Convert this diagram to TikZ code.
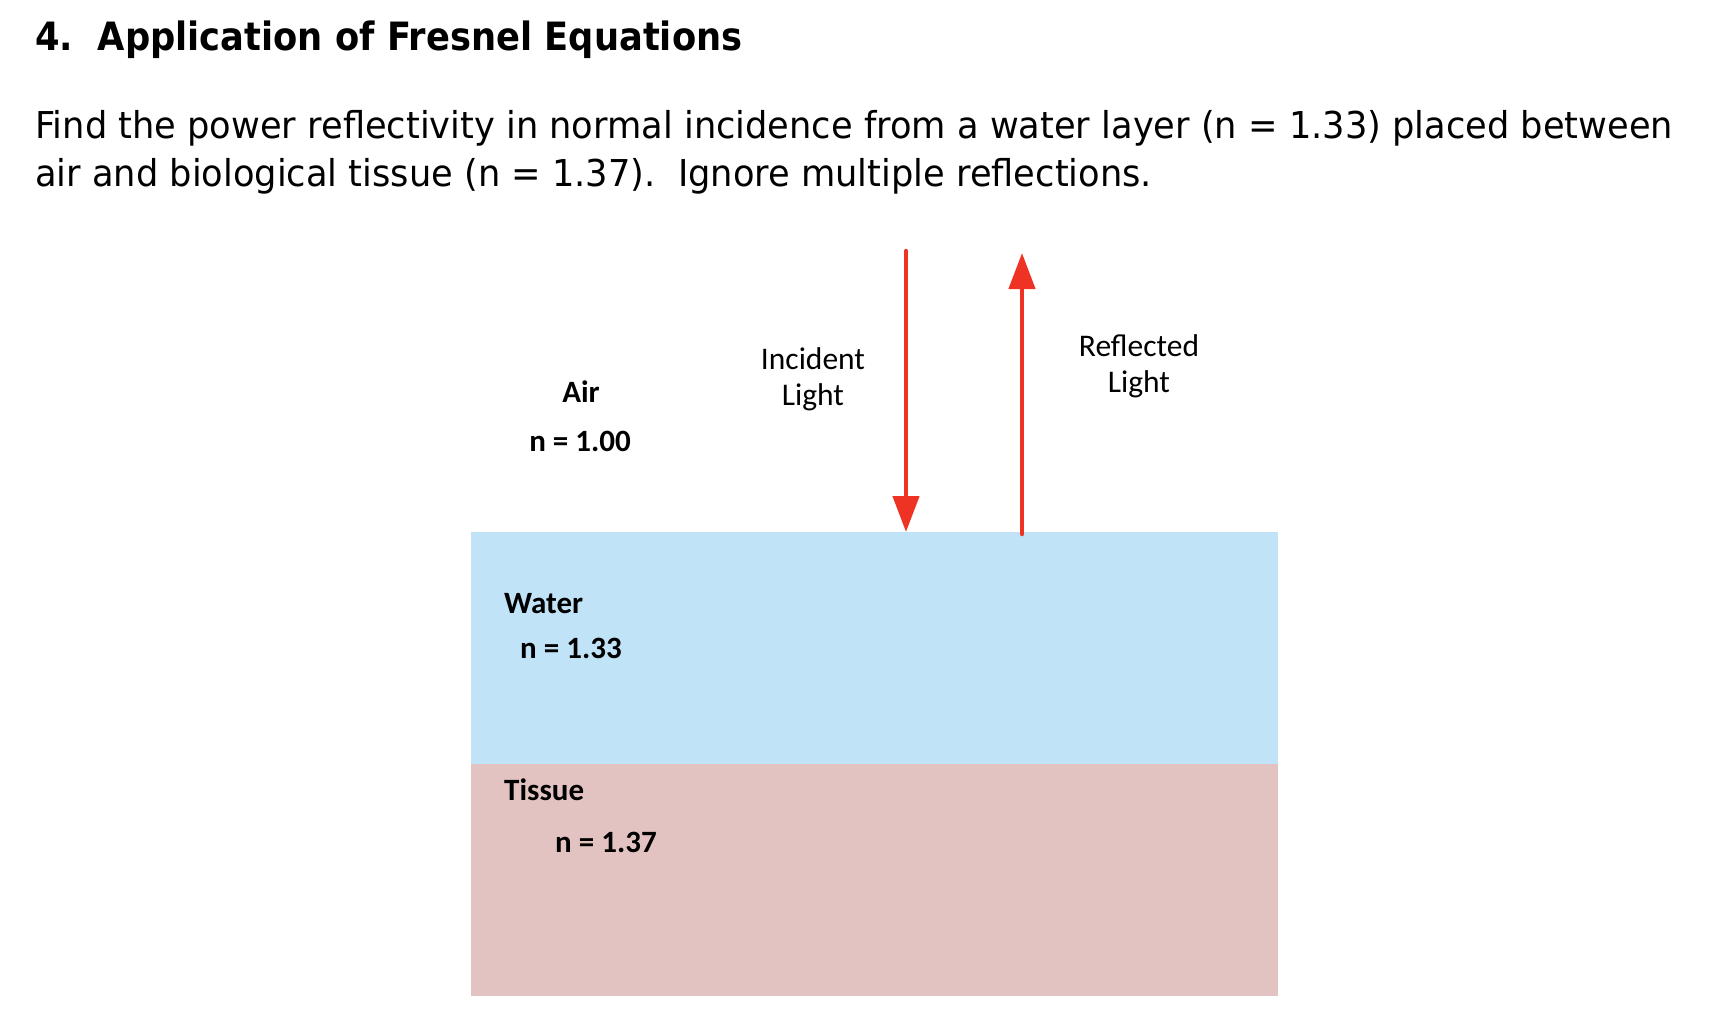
\documentclass[tikz,border=0pt]{standalone}
\usepackage{fontspec}
\usetikzlibrary{arrows.meta}
\newfontfamily\tahoma{DejaVu Sans}[FakeStretch=0.952]
\newfontfamily\tahomab{DejaVu Sans Bold}[FakeStretch=0.905]
\newfontfamily\calib{Carlito}
\definecolor{waterc}{HTML}{C0E3F7}
\definecolor{tissuec}{HTML}{E3C3C1}
\definecolor{rayc}{HTML}{EE3324}
\tikzset{
  body/.style={inner sep=0pt, anchor=base west, font=\tahoma\fontsize{37}{44}\selectfont},
  lbl/.style={inner sep=0pt, font=\calib\fontsize{31.5}{36}\selectfont, align=center},
  blbl/.style={inner sep=0pt, font=\calib\bfseries\fontsize{31}{36}\selectfont, anchor=base west},
  layer/.style={draw=none, inner sep=0pt, minimum width=807pt, minimum height=232pt},
  ray/.style={draw=rayc, line width=4.5pt, line cap=round, -{Triangle[length=36pt,width=26pt]}}
}
\begin{document}
\begin{tikzpicture}[x=1pt,y=-1pt]
\useasboundingbox (0,0) rectangle (1709,1015);
\node[body, font=\tahomab\fontsize{39}{44}\selectfont] (title) at (35,50) {4.\ \ Application of Fresnel Equations};
\node[body] (l1) at (35,138) {Find the power reflectivity in normal incidence from a water layer (n = 1.33) placed between};
\node[body] (l2) at (35,186) {air and biological tissue (n = 1.37).\ \ Ignore multiple reflections.};
\node[layer, fill=waterc, anchor=north west] (water) at (471,532) {};
\node[layer, fill=tissuec, anchor=north west] (tissue) at (471,764) {};
\node[lbl, font=\calib\bfseries\fontsize{31}{36}\selectfont] (air) at (581,392) {Air};
\node[lbl, font=\calib\bfseries\fontsize{31}{36}\selectfont] (airn) at (580,441) {n = 1.00};
\node[lbl] (inc) at (813,379) {Incident\\Light};
\node[lbl] (refl) at (1139,366) {Reflected\\Light};
\node[blbl] (wl) at (504,613) {Water};
\node[blbl] (wn) at (520,658) {n = 1.33};
\node[blbl] (tl) at (504,800) {Tissue};
\node[blbl] (tn) at (555,852) {n = 1.37};
\coordinate (inS) at (906,251);
\coordinate (reS) at (1022,534);
\coordinate (reE) at (1022,253);
\draw[ray] (inS) -- (inS |- water.north);
\draw[ray] (reS) -- (reE);
\end{tikzpicture}
\end{document}
